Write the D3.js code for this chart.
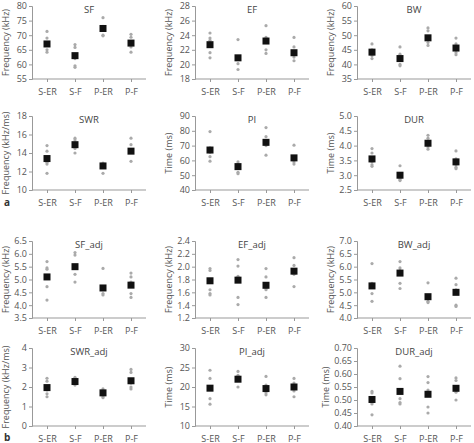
<!DOCTYPE html>
<html><head><meta charset="utf-8">
<script src="https://cdn.jsdelivr.net/npm/d3@7"></script>
<style>body{margin:0;background:#fff}text{font-family:"Open Sans",sans-serif}</style>
</head><body>
<script>
//groups on the x axis
var groups = ["S-ER","S-F","P-ER","P-F"];

//panel names, y domains, tick steps, formats, y labels
var names = ["SF","EF","BW","SWR","PI","DUR","SF_adj","EF_adj","BW_adj","SWR_adj","PI_adj","DUR_adj"];
var yDomains = [[55,80],[18,28],[35,60],[10,18],[40,90],[2.5,5],[3.5,6.5],[1.2,2.4],[4,7],[0,4],[10,30],[0.4,0.7]];
var ySteps = [5,2,5,2,10,0.5,0.5,0.2,0.5,1,5,0.05];
var yFormats = ["d","d","d","d","d",".1f",".1f",".1f",".1f","d","d",".2f"];
var yLabels = ["Frequency (kHz)","Frequency (kHz)","Frequency (kHz)","Frequency (kHz/ms)","Time (ms)","Time (ms)",
               "Frequency (kHz)","Frequency (kHz)","Frequency (kHz)","Frequency (kHz/ms)","Time (ms)","Time (ms)"];

//means per panel (order of groups)
var means = [
  [67,63,72.3,67.3],[22.7,20.9,23.2,21.6],[44.2,42,49.1,45.6],
  [13.4,14.9,12.6,14.2],[67,55.8,72.2,61.7],[3.55,3.0,4.08,3.45],
  [5.1,5.5,4.67,4.78],[1.78,1.79,1.71,1.93],[5.25,5.75,4.83,5.0],
  [1.97,2.28,1.7,2.32],[19.7,22,19.6,20],[0.502,0.533,0.522,0.545]
];

//individual values per panel, per group
var points = [
  [[71.3,69,66.5,65,64.2],[66.8,65.8,62,59.5,59],[76,73,70,69.8],[70.3,69.3,67.5,66,64.2]],
  [[24.3,23.6,23.3,21.6,20.9],[23.4,20.1,19.3],[25.3,23.7,22,21.5],[23.7,22.4,21,20.5]],
  [[47,45,43,42],[46,43.5,40,39.5],[52.5,51.5,47.5,46.5],[49,47,44,43.3]],
  [[14.8,14.2,13,12.8,11.8],[15.6,15.4,14.5,14],[12.9,11.8],[15.6,14.9,13.1]],
  [[79.5,68.5,65.5,62.5,59.5],[59,57.5,52,51],[82.2,76,70,63.5],[70.3,59,57.5]],
  [[3.9,3.75,3.45,3.35,3.3],[3.32,2.9,2.85,2.82],[4.35,4.25,3.95,3.88],[3.82,3.55,3.35,3.27,3.22]],
  [[5.7,5.45,5.4,4.72,4.2],[6.05,5.95,5.2,4.9],[5.43,4.6,4.45,4.4],[5.25,5.1,4.9,4.45,4.3]],
  [[1.97,1.94,1.64,1.58,1.56],[2.11,2.01,1.85,1.52,1.41],[1.97,1.84,1.66,1.64,1.52],[2.14,2.02,1.88,1.69]],
  [[6.12,5.35,4.95,4.65],[6.2,5.95,5.85,5.35,5.15],[5.37,4.65,4.6],[5.55,5.3,5.1,4.5,4.45]],
  [[2.45,2.3,1.85,1.65,1.5],[2.5,2.35,2.1],[1.9,1.8,1.5,1.45],[2.9,2.75,2.2,2.0,1.9]],
  [[24.3,22.2,17,15.6],[24,23,20],[22.7,20.5,18.5,18],[22.2,21,19,17.5]],
  [[0.533,0.527,0.49,0.485,0.443],[0.63,0.582,0.505,0.49,0.485],[0.59,0.567,0.538,0.473,0.45],[0.585,0.575,0.53,0.5]]
];

var w = 474, h = 443;
var colX = [32,195,357], pw = 114;
var rows = [[6,79],[116,190],[241,318],[348,426]];

var svg = d3.select("body").append("svg").attr("width",w).attr("height",h);

names.forEach(function(name,i){
  var c = i%3, r = Math.floor(i/3);
  var x0 = colX[c], top = rows[r][0], bot = rows[r][1];
  var x = d3.scalePoint().domain(groups).range([x0+15,x0+pw-15]);
  var d = yDomains[i];
  var y = d3.scaleLinear().domain(d).range([bot,top]);
  var ticks = d3.range(0, Math.round((d[1]-d[0])/ySteps[i])+1).map(function(k){ return d[0]+k*ySteps[i]; });
  var g = svg.append("g");

  var ya = g.append("g").attr("transform","translate("+x0+",0)")
    .call(d3.axisLeft(y).tickValues(ticks).tickFormat(d3.format(yFormats[i])).tickSize(3).tickPadding(2));
  var xa = g.append("g").attr("transform","translate(0,"+bot+")")
    .call(d3.axisBottom(x).tickSize(3).tickPadding(7));
  g.append("line").attr("x1",x0).attr("x2",x0+pw).attr("y1",bot).attr("y2",bot).attr("stroke","#999");
  xa.select(".domain").remove();
  [ya,xa].forEach(function(a){
    a.selectAll("path,line").attr("stroke","#999");
    a.selectAll("text").attr("fill","#555").style("font-size","9px");
  });

  g.append("text").attr("x",x0+pw/2).attr("y",top+7).attr("text-anchor","middle")
    .attr("fill","#444").style("font-size","9.5px").text(name);
  var off = yFormats[i] == ".2f" ? 28 : 23;
  g.append("text").attr("transform","translate("+(x0-off)+","+((top+bot)/2)+") rotate(-90)")
    .attr("text-anchor","middle").attr("fill","#555").style("font-size","9px").text(yLabels[i]);

  groups.forEach(function(gr,j){
    g.selectAll(null).data(points[i][j]).enter().append("circle")
      .attr("cx",x(gr)).attr("cy",function(v){ return y(v); }).attr("r",1.6).attr("fill","#aaa");
    g.append("rect").attr("x",x(gr)-3.5).attr("y",y(means[i][j])-3.5).attr("width",7).attr("height",7).attr("fill","#111");
  });
});

svg.append("text").attr("x",4).attr("y",206).style("font-size","10px").style("font-weight","bold").attr("fill","#333").text("a");
svg.append("text").attr("x",4).attr("y",441).style("font-size","10px").style("font-weight","bold").attr("fill","#333").text("b");
</script>
</body></html>
